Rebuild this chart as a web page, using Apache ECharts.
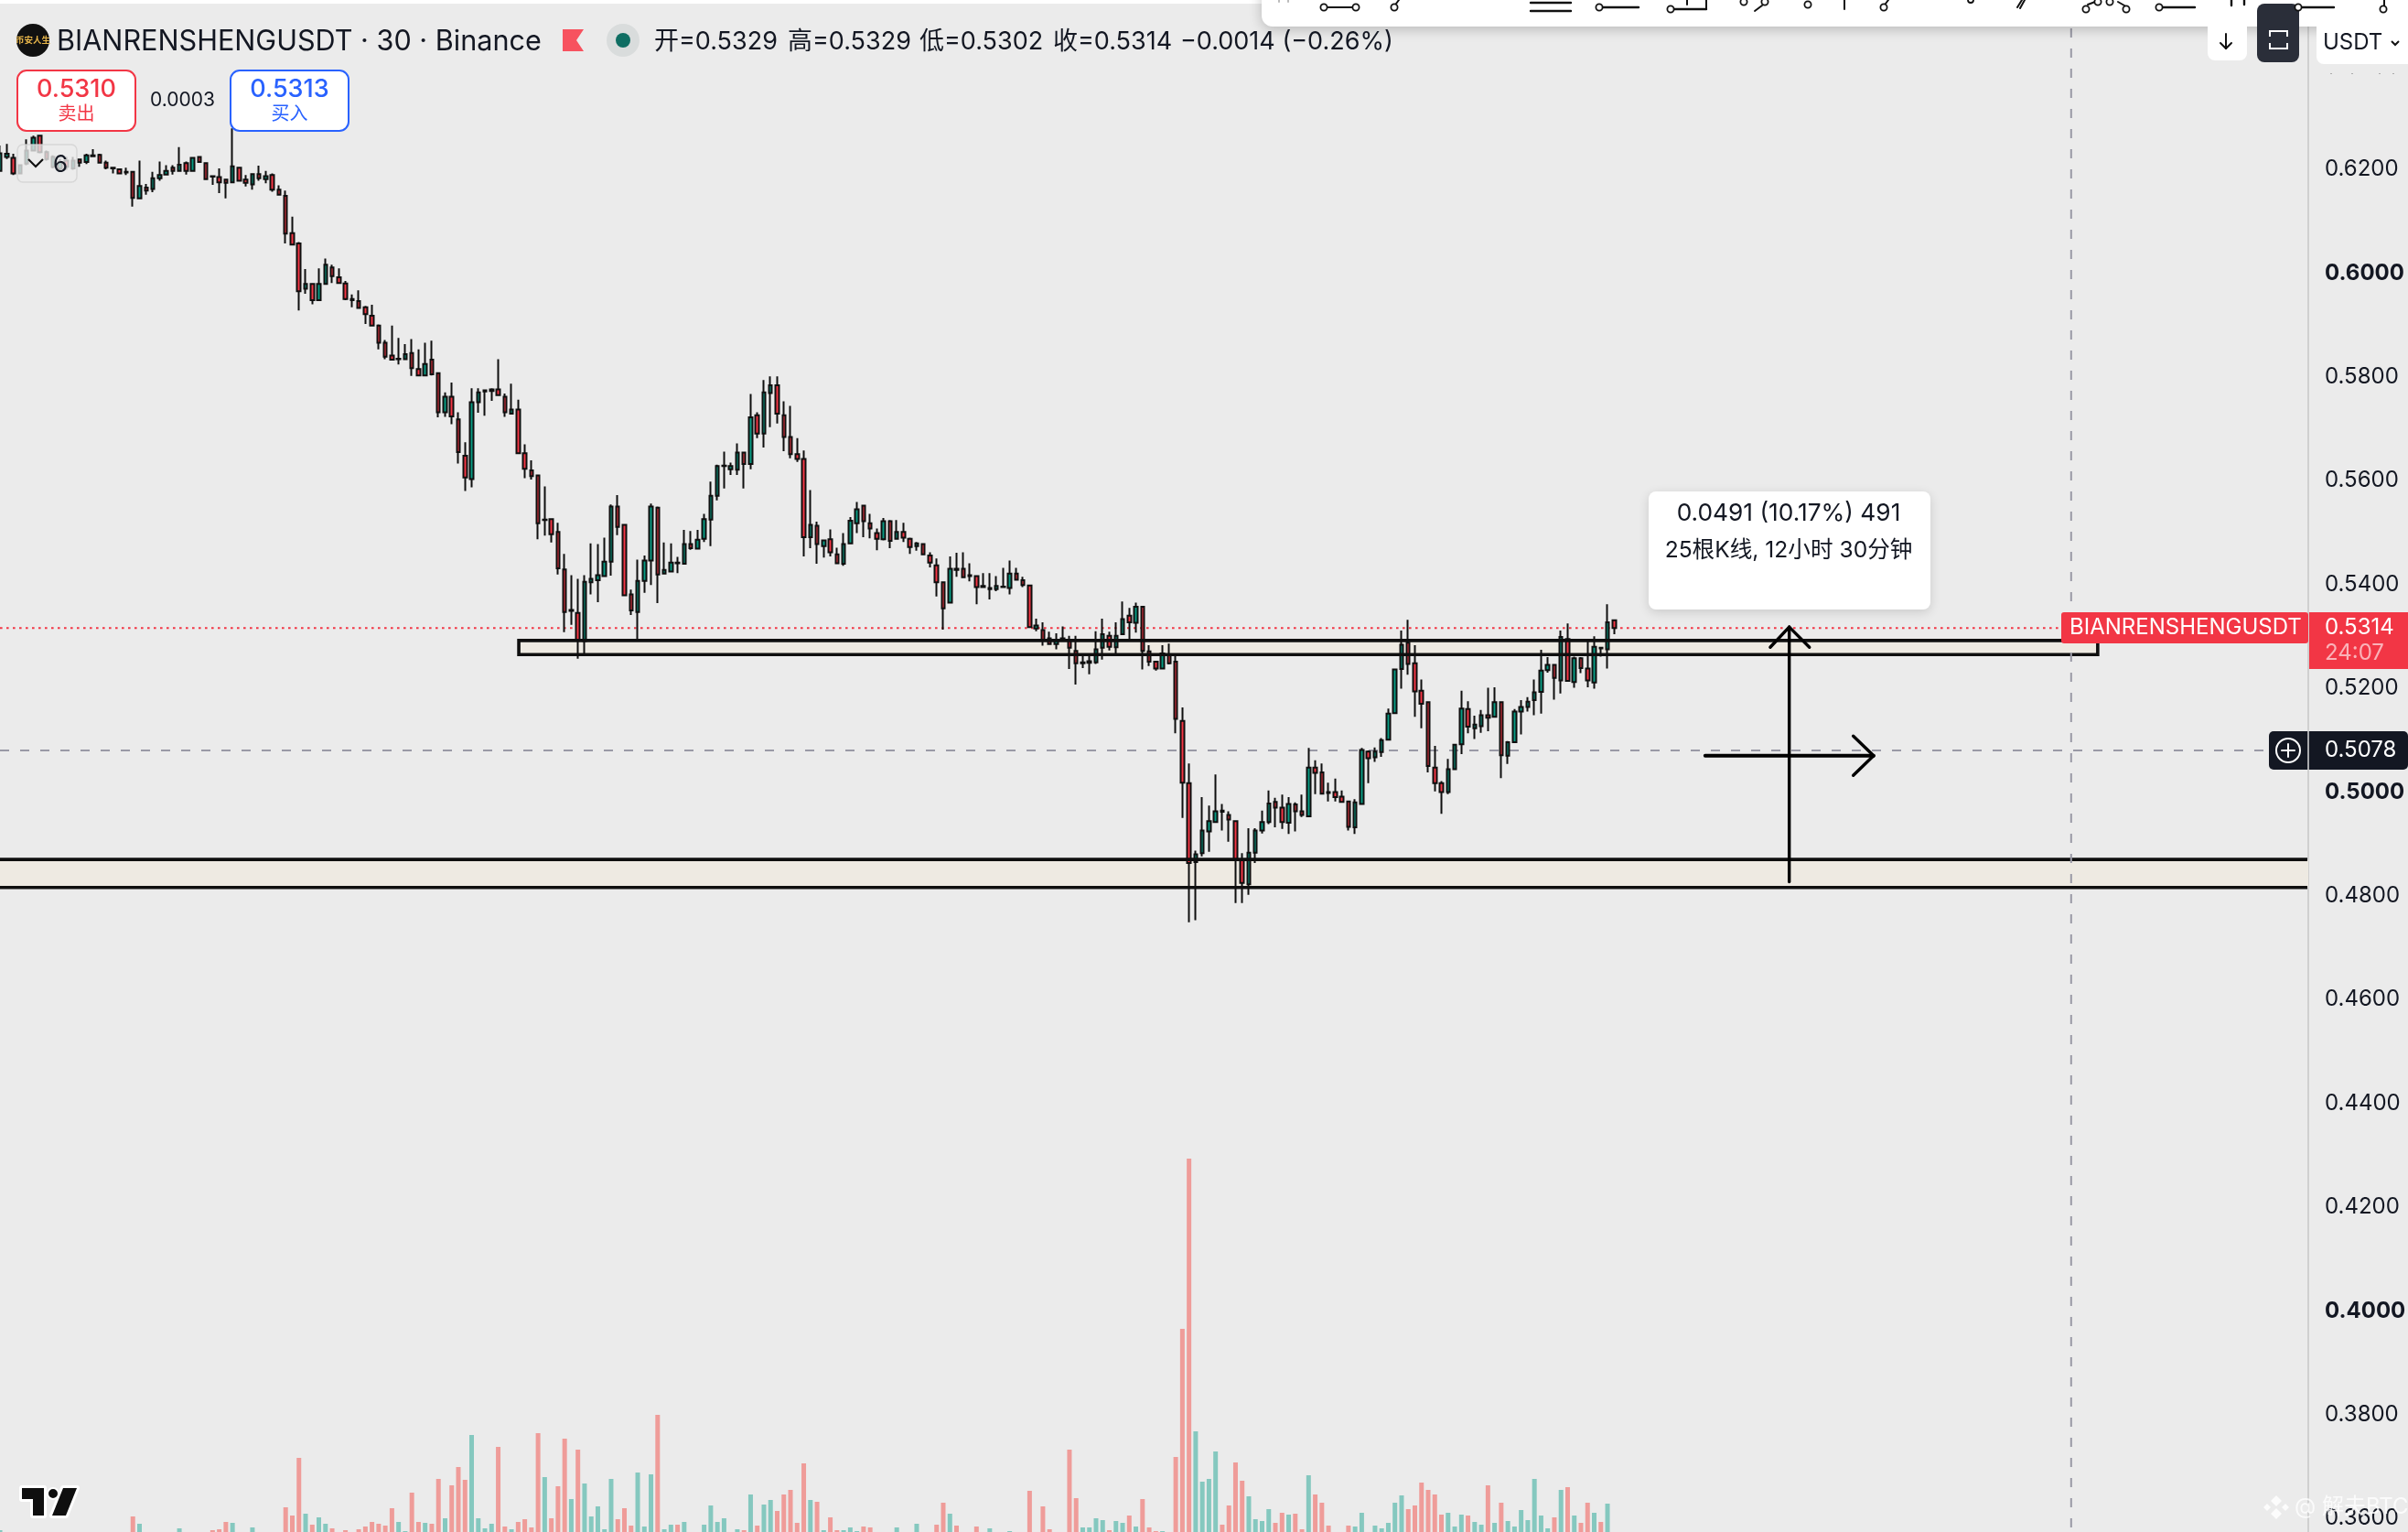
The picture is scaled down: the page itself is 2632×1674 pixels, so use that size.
<!DOCTYPE html>
<html><head><meta charset="utf-8">
<style>html,body{margin:0;padding:0;background:#ebebeb}#c{width:2632px;height:1674px}</style>
<script src="https://cdn.jsdelivr.net/npm/echarts@6/dist/echarts.min.js"></script>
</head><body><div id="c"></div>
<script>
// ---------- data ----------
const opens = [
.6195,.6222,.6220,.6190,.6209,.6234,.6263,.6231,.6203,.6200,
.6215,.6200,.6217,.6212,.6223,.6226,.6211,.6201,.6198,.6193,
.6193,.6142,.6163,.6160,.6181,.6188,.6201,.6195,.6210,.6195,
.6222,.6210,.6185,.6183,.6178,.6173,.6201,.6178,.6169,.6189,
.6179,.6187,.6159,.6147,.6075,.6055,.5968,.5977,.5946,.5977,
.6009,.5990,.5978,.5948,.5944,.5932,.5916,.5897,.5864,.5839,
.5832,.5832,.5844,.5813,.5801,.5831,.5805,.5730,.5760,.5716,
.5646,.5601,.5749,.5770,.5771,.5774,.5760,.5727,.5735,.5651,
.5618,.5608,.5522,.5524,.5499,.5427,.5347,.5343,.5289,.5402,
.5406,.5414,.5442,.5548,.5513,.5379,.5345,.5405,.5444,.5546,
.5419,.5423,.5440,.5438,.5476,.5467,.5486,.5523,.5569,.5626,
.5620,.5619,.5652,.5630,.5724,.5689,.5767,.5782,.5724,.5682,
.5649,.5640,.5489,.5511,.5472,.5485,.5456,.5438,.5477,.5516,
.5550,.5516,.5497,.5485,.5520,.5486,.5499,.5486,.5472,.5476,
.5454,.5435,.5402,.5363,.5428,.5428,.5416,.5414,.5393,.5389,
.5389,.5394,.5391,.5419,.5406,.5396,.5313,.5310,.5294,.5283,
.5292,.5291,.5270,.5246,.5247,.5248,.5276,.5299,.5277,.5302,
.5338,.5324,.5355,.5269,.5249,.5236,.5262,.5249,.5135,.5015,
.4863,.4880,.4922,.4940,.4962,.4954,.4942,.4867,.4820,.4881,
.4924,.4940,.4979,.4968,.4939,.4974,.4961,.4951,.5045,.5036,
.4998,.4998,.4989,.4980,.4930,.4975,.5076,.5065,.5075,.5099,
.5150,.5235,.5286,.5246,.5193,.5171,.5045,.5015,.4998,.5042,
.5090,.5158,.5121,.5125,.5146,.5143,.5171,.5068,.5094,.5153,
.5162,.5175,.5191,.5233,.5243,.5213,.5293,.5210,.5256,.5236,
.5209,.5276,.5273,.5329];
const closes = [
.6229,.6228,.6190,.6206,.6234,.6259,.6231,.6218,.6222,.6212,
.6203,.6215,.6211,.6225,.6225,.6211,.6201,.6200,.6190,.6192,
.6143,.6166,.6157,.6181,.6187,.6195,.6195,.6207,.6195,.6220,
.6212,.6179,.6184,.6173,.6172,.6204,.6176,.6172,.6189,.6181,
.6185,.6159,.6149,.6074,.6053,.5963,.5977,.5946,.5977,.6014,
.5992,.5979,.5948,.5946,.5931,.5919,.5897,.5864,.5837,.5831,
.5833,.5842,.5815,.5801,.5823,.5803,.5730,.5760,.5722,.5653,
.5604,.5749,.5768,.5772,.5774,.5763,.5730,.5735,.5651,.5621,
.5607,.5516,.5523,.5495,.5429,.5345,.5349,.5291,.5403,.5409,
.5416,.5442,.5548,.5509,.5377,.5348,.5405,.5444,.5548,.5417,
.5426,.5440,.5439,.5476,.5468,.5484,.5524,.5569,.5626,.5627,
.5626,.5652,.5630,.5720,.5689,.5768,.5782,.5727,.5682,.5649,
.5640,.5489,.5513,.5476,.5483,.5460,.5439,.5476,.5521,.5543,
.5520,.5506,.5486,.5520,.5482,.5499,.5488,.5470,.5477,.5456,
.5440,.5402,.5352,.5428,.5426,.5412,.5414,.5393,.5395,.5391,
.5395,.5393,.5419,.5407,.5397,.5316,.5319,.5290,.5283,.5290,
.5294,.5276,.5246,.5248,.5250,.5273,.5302,.5278,.5299,.5331,
.5325,.5355,.5270,.5249,.5236,.5265,.5246,.5139,.5016,.4861,
.4878,.4924,.4942,.4961,.4960,.4945,.4867,.4823,.4881,.4924,
.4940,.4976,.4968,.4940,.4975,.4961,.4954,.5045,.5035,.4995,
.4996,.4988,.4979,.4931,.4978,.5079,.5063,.5076,.5098,.5149,
.5234,.5282,.5245,.5192,.5168,.5048,.5015,.4998,.5042,.5089,
.5159,.5124,.5128,.5146,.5141,.5171,.5069,.5094,.5153,.5162,
.5172,.5190,.5232,.5243,.5218,.5297,.5212,.5256,.5237,.5213,
.5278,.5275,.5325,.5314];
const lows = [
.6193,.6218,.6187,.6189,.6206,.6233,.6229,.6215,.6200,.6195,
.6197,.6197,.6203,.6208,.6222,.6210,.6198,.6190,.6189,.6187,
.6126,.6141,.6149,.6154,.6176,.6187,.6188,.6193,.6188,.6193,
.6211,.6179,.6168,.6152,.6142,.6172,.6176,.6165,.6159,.6176,
.6171,.6155,.6149,.6055,.6053,.5926,.5958,.5938,.5944,.5976,
.5979,.5978,.5946,.5932,.5930,.5900,.5897,.5851,.5832,.5830,
.5822,.5831,.5800,.5800,.5800,.5801,.5720,.5721,.5707,.5631,
.5578,.5585,.5729,.5723,.5752,.5762,.5721,.5726,.5650,.5603,
.5600,.5485,.5492,.5479,.5417,.5306,.5320,.5255,.5261,.5379,
.5364,.5413,.5415,.5493,.5376,.5339,.5292,.5382,.5397,.5362,
.5418,.5422,.5420,.5436,.5465,.5466,.5480,.5472,.5560,.5583,
.5609,.5609,.5583,.5620,.5680,.5662,.5701,.5708,.5655,.5641,
.5634,.5452,.5468,.5438,.5450,.5452,.5438,.5434,.5477,.5497,
.5489,.5487,.5464,.5483,.5468,.5486,.5480,.5457,.5463,.5456,
.5431,.5375,.5311,.5362,.5413,.5412,.5404,.5360,.5392,.5369,
.5385,.5392,.5379,.5406,.5393,.5315,.5308,.5280,.5283,.5273,
.5291,.5235,.5205,.5237,.5225,.5245,.5253,.5271,.5262,.5301,
.5293,.5305,.5234,.5241,.5232,.5235,.5244,.5111,.4948,.4747,
.4751,.4874,.4883,.4939,.4924,.4902,.4784,.4784,.4800,.4861,
.4918,.4936,.4930,.4927,.4917,.4922,.4950,.4950,.4994,.4994,
.4980,.4980,.4978,.4924,.4917,.4974,.5015,.5056,.5066,.5098,
.5149,.5197,.5224,.5143,.5121,.5036,.4999,.4956,.4994,.5041,
.5071,.5111,.5100,.5112,.5115,.5142,.5025,.5052,.5094,.5109,
.5153,.5146,.5149,.5228,.5176,.5188,.5212,.5199,.5227,.5200,
.5197,.5259,.5236,.5302];
const highs = [
.6244,.6247,.6228,.6206,.6256,.6263,.6264,.6234,.6225,.6218,
.6222,.6222,.6218,.6228,.6237,.6228,.6215,.6201,.6200,.6201,
.6195,.6215,.6170,.6193,.6213,.6206,.6206,.6241,.6213,.6222,
.6223,.6211,.6185,.6200,.6179,.6277,.6203,.6187,.6190,.6205,
.6195,.6190,.6167,.6157,.6107,.6058,.6006,.5978,.6007,.6026,
.6014,.6007,.5983,.5957,.5965,.5935,.5937,.5899,.5869,.5897,
.5873,.5861,.5871,.5851,.5864,.5868,.5806,.5768,.5787,.5730,
.5672,.5776,.5776,.5774,.5776,.5832,.5766,.5785,.5754,.5668,
.5637,.5608,.5587,.5524,.5517,.5457,.5416,.5409,.5416,.5477,
.5476,.5488,.5552,.5570,.5513,.5388,.5446,.5454,.5554,.5548,
.5479,.5477,.5451,.5503,.5501,.5503,.5534,.5596,.5629,.5654,
.5633,.5670,.5652,.5765,.5730,.5792,.5799,.5799,.5751,.5742,
.5680,.5656,.5580,.5519,.5483,.5504,.5469,.5497,.5528,.5557,
.5550,.5534,.5506,.5526,.5522,.5522,.5517,.5488,.5480,.5476,
.5460,.5448,.5402,.5452,.5459,.5460,.5439,.5414,.5420,.5420,
.5414,.5430,.5444,.5430,.5413,.5398,.5332,.5325,.5307,.5304,
.5317,.5299,.5299,.5260,.5264,.5308,.5332,.5307,.5325,.5365,
.5353,.5363,.5355,.5281,.5249,.5281,.5284,.5265,.5161,.5053,
.4885,.4988,.4972,.5032,.4975,.4961,.4942,.4880,.4928,.4928,
.4962,.5001,.4987,.4993,.4988,.4978,.4993,.5083,.5059,.5053,
.5016,.5024,.5001,.4981,.4984,.5083,.5078,.5084,.5102,.5159,
.5235,.5309,.5330,.5281,.5215,.5172,.5087,.5019,.5062,.5091,
.5193,.5173,.5145,.5156,.5199,.5200,.5171,.5096,.5158,.5175,
.5181,.5215,.5272,.5258,.5244,.5309,.5323,.5259,.5258,.5290,
.5298,.5277,.5360,.5329];
const volumes = [
6,0,0,0,0,0,0,0,0,0,
0,0,0,0,0,0,0,0,0,0,
51,27,0,0,0,0,0,12,0,0,
0,0,6,9,33,30,0,0,15,0,
0,0,0,81,54,243,60,24,48,27,
12,0,6,0,9,18,33,27,21,78,
33,3,129,33,30,27,174,45,153,213,
171,318,45,12,27,279,18,9,33,42,
15,324,180,45,150,306,108,270,159,51,
84,9,174,42,78,21,195,18,189,384,
9,24,24,33,0,0,24,87,33,45,
0,9,6,123,21,90,105,69,123,138,
30,225,105,99,6,48,6,6,15,3,
18,15,0,0,0,15,0,0,27,0,
0,24,96,60,21,0,0,18,0,12,
0,0,3,0,0,135,0,84,9,0,
0,270,111,15,15,45,39,6,36,30,
54,18,108,15,3,3,0,246,666,1224,
330,165,174,264,24,87,228,168,117,42,
36,75,30,63,57,60,9,186,123,96,
21,0,0,21,18,63,0,21,12,30,
96,120,75,87,162,138,123,57,63,18,
57,54,33,24,153,30,96,36,18,72,
39,174,54,12,48,138,147,54,30,96,
63,33,93,0];
const tickLabels = ['0.6200','0.6000','0.5800','0.5600','0.5400','0.5200','0.5000','0.4800','0.4600','0.4400','0.4200','0.4000','0.3800','0.3600'];
const boldTicks = ['0.6000','0.5000','0.4000'];
const zoneTops = [0.5290, 0.4868];
const zoneBottoms = [0.5263, 0.4814];
const lastPrice = 0.5314, crossPrice = 0.5078;
const arrowV = {from:0.4825, to:0.5316, head:0.5277};
const arrowH = {price:0.5068, hi:0.5106, lo:0.5030};

// ---------- layout ----------
const SLOTS = 348;
const categories = Array.from({length:SLOTS},(_,i)=>String(i));
const candleData = opens.map((o,i)=>[o,closes[i],lows[i],highs[i]]);
const UP='#089981',DOWN='#f23645',INK='#0f0f0f',TXT='#131722',
      FONT='Inter,"Noto Sans CJK SC",sans-serif';

function helper(params,api){
  const s=params.coordSys;
  return {
    s, X:i=>s.x+(i+0.5)*s.width/SLOTS,
    Y:p=>api.coord([0,p])[1]
  };
}
const ln=(x1,y1,x2,y2,stroke,w,dash)=>({type:'line',shape:{x1,y1,x2,y2},
  style:{stroke,lineWidth:w,lineDash:dash||null,lineCap:dash?'butt':'round',fill:null}});

function renderUnder(params,api){
  const {s,X,Y}=helper(params,api),ch=[];
  ch.push({type:'rect',shape:{x:X(78.1),y:Y(zoneTops[0]),width:X(315.8)-X(78.1),height:Y(zoneBottoms[0])-Y(zoneTops[0])},style:{fill:'#eeeae2'}});
  ch.push({type:'rect',shape:{x:s.x,y:Y(zoneTops[1]),width:s.width,height:Y(zoneBottoms[1])-Y(zoneTops[1])},style:{fill:'#eeeae2'}});
  ch.push(ln(0,Y(lastPrice),2253,Y(lastPrice),DOWN,2,[2.6,4.4]));
  ch.push(ln(0,Y(crossPrice),2480,Y(crossPrice),'#9a9aa6',2,[10,12]));
  return {type:'group',children:ch};
}
function renderOver(params,api){
  const {s,X,Y}=helper(params,api),ch=[];
  ch.push({type:'rect',shape:{x:X(78.1),y:Y(zoneTops[0]),width:X(315.8)-X(78.1),height:Y(zoneBottoms[0])-Y(zoneTops[0])},style:{fill:null,stroke:INK,lineWidth:3.6}});
  ch.push(ln(s.x,Y(zoneTops[1]),s.x+s.width-1,Y(zoneTops[1]),INK,3.6,[1e4,0]));
  ch.push(ln(s.x,Y(zoneBottoms[1]),s.x+s.width-1,Y(zoneBottoms[1]),INK,3.6,[1e4,0]));
  ch.push(ln(X(311.8),31,X(311.8),1674,'#9a9aa6',2,[10,12]));
  const i=269.36,k='#000';
  ch.push(ln(X(i),Y(arrowV.from),X(i),Y(arrowV.to),k,3.4));
  ch.push(ln(X(266.5),Y(arrowV.head),X(i),Y(arrowV.to),k,3.4));
  ch.push(ln(X(272.4),Y(arrowV.head),X(i),Y(arrowV.to),k,3.4));
  ch.push(ln(X(256.7),Y(arrowH.price),X(282.06),Y(arrowH.price),k,3.8));
  ch.push(ln(X(279),Y(arrowH.hi),X(282.06),Y(arrowH.price),k,3.4));
  ch.push(ln(X(279),Y(arrowH.lo),X(282.06),Y(arrowH.price),k,3.4));
  return {type:'group',children:ch};
}

// ---------- chrome ----------
const Z={z:100};
const box=(x,y,w,h,fill,o={})=>({type:'rect',...Z,silent:true,shape:{x,y,width:w,height:h,r:o.r||0},
  style:{fill,stroke:o.stroke||null,lineWidth:o.lw||0,shadowBlur:o.blur||0,shadowColor:o.sc||'transparent',shadowOffsetY:o.oy||0}});
const txt=(x,y,text,size,fill,o={})=>({type:'text',...Z,z:o.z||101,silent:true,x,y,
  style:{text,fill,font:`${o.w||400} ${size}px ${o.f||FONT}`,align:o.a||'left',verticalAlign:'middle',opacity:o.op==null?1:o.op,
         shadowBlur:o.sb||0,shadowColor:o.sc||'transparent'}});
const seg=(x1,y1,x2,y2,stroke,w=2)=>({type:'line',...Z,z:103,silent:true,shape:{x1,y1,x2,y2},style:{stroke,lineWidth:w,lineCap:'round'}});
const dot=(cx,cy,r=3.6)=>({type:'circle',...Z,z:104,silent:true,shape:{cx,cy,r},style:{fill:'#fff',stroke:'#111',lineWidth:1.8}});
const poly=(pts,fill,o={})=>({type:'polygon',...Z,z:o.z||102,silent:true,shape:{points:pts},style:{fill,stroke:o.stroke||null,lineWidth:o.lw||0,lineJoin:'round'}});

const chrome=[
  // top strip + toolbar
  box(0,0,1400,4,'#fff'),
  box(1379,-30,1300,59,'#fff',{r:12,blur:14,sc:'rgba(0,0,0,.22)',oy:3}),
  seg(1398,0,1398,2,'#bbb',2),seg(1408,0,1408,2,'#bbb',2),
  seg(1447,8,1482,8,'#111'),dot(1447,8),dot(1482,8),dot(1524,8),seg(1526,4,1529,0,'#111'),
  seg(1673,3,1717,3,'#111',2.4),seg(1673,12,1717,12,'#111',2.4),
  dot(1748,8),seg(1752,8,1791,8,'#111',2.4),
  dot(1826,10),seg(1830,10,1865,10,'#111',2.4),seg(1865,0,1865,10,'#111'),seg(1844,0,1844,5,'#111'),
  dot(1906,2),dot(1929,2),seg(1926,6,1918,12,'#111'),
  dot(1976,5),seg(2016,0,2016,10,'#111'),dot(2059,8),seg(2061,4,2064,0,'#111'),
  dot(2154,0,3),
  seg(2205,8,2210,0,'#111',2),seg(2208,9,2213,0,'#111',2),
  dot(2280,10),dot(2324,10),seg(2282,5,2290,2,'#111'),dot(2293,2),dot(2306,2),seg(2315,2,2322,6,'#111'),
  dot(2360,8),seg(2364,8,2399,8,'#111',2.4),
  seg(2439,0,2439,6,'#111',2.4),seg(2453,0,2453,5,'#111',2.4),
  dot(2512,8),seg(2516,8,2551,8,'#111',2.4),dot(2605,10),seg(2606,0,2606,6,'#111'),
  // right-hand buttons
  box(2413,4,43,62,'#fff',{r:8}),
  seg(2433,37,2433,53,'#111',2),seg(2427,47,2433,53,'#111',2),seg(2439,47,2433,53,'#111',2),
  box(2467,4,46,64,'#2a2e39',{r:8}),
  {type:'polyline',...Z,z:103,silent:true,shape:{points:[[2481,40],[2481,34],[2500,34],[2500,40]]},style:{stroke:'#fff',lineWidth:2,fill:null}},
  {type:'polyline',...Z,z:103,silent:true,shape:{points:[[2481,47],[2481,53],[2500,53],[2500,47]]},style:{stroke:'#fff',lineWidth:2,fill:null}},
  box(2532,4,110,66,'#fff',{r:8}),
  txt(2539,47,'USDT',24,TXT),
  {type:'polyline',...Z,z:103,silent:true,shape:{points:[[2614,45],[2618,49],[2622,45]]},style:{stroke:'#111',lineWidth:2,fill:null}},
  box(2547,80,2,1,'#aaa'),box(2570,80,2,1,'#aaa'),box(2600,80,2,1,'#aaa'),box(2615,80,2,1,'#aaa'),
  // title row
  {type:'circle',...Z,silent:true,shape:{cx:36,cy:44,r:18},style:{fill:'#111'}},
  txt(36,44,'币安人生',9.5,'#e8b64a',{a:'center',w:700}),
  txt(62,46,'BIANRENSHENGUSDT · 30 · Binance',30.6,TXT),
  poly([[615,32],[638,32],[630,44],[638,56],[615,56]],'#f7525f'),
  {type:'circle',...Z,silent:true,shape:{cx:681,cy:44,r:18},style:{fill:'#d9dcdc'}},
  {type:'circle',...Z,z:102,silent:true,shape:{cx:681,cy:44,r:8},style:{fill:'#0f6e63'}},
  txt(715,46,'开=0.5329',27,TXT),txt(861,46,'高=0.5329',27,TXT),
  txt(1005,46,'低=0.5302',27,TXT),txt(1151,46,'收=0.5314',27,TXT),
  txt(1290,46,'−0.0014 (−0.26%)',27,TXT),
  // buy/sell
  box(19,77,129,66,'#fff',{r:10,stroke:DOWN,lw:2}),
  txt(83.5,97.5,'0.5310',27,DOWN,{a:'center',w:500}),
  txt(83.5,125,'卖出',20,DOWN,{a:'center'}),
  txt(199.5,110,'0.0003',21,TXT,{a:'center'}),
  box(252,77,129,66,'#fff',{r:10,stroke:'#2962ff',lw:2}),
  txt(316.5,97.5,'0.5313',27,'#2962ff',{a:'center',w:500}),
  txt(316.5,125,'买入',20,'#2962ff',{a:'center'}),
  // collapse chip
  box(19,158,65,41,'rgba(236,236,236,.78)',{r:6,stroke:'rgba(210,210,210,.8)',lw:1.5}),
  {type:'polyline',...Z,z:103,silent:true,shape:{points:[[31,174],[39,182],[47,174]]},style:{stroke:'#111',lineWidth:2.2,fill:null}},
  txt(66,180,'6',26,TXT,{a:'center'}),
  // measure tooltip
  box(1802,537,308,129,'#fff',{r:8,blur:12,sc:'rgba(0,0,0,.14)',oy:3}),
  txt(1955,561.5,'0.0491 (10.17%) 491',26.3,TXT,{a:'center'}),
  txt(1955,601.5,'25根K线, 12小时 30分钟',24.6,TXT,{a:'center'}),
  // price tags
  box(2253,669,270,34,DOWN,{r:3}),
  txt(2262,686,'BIANRENSHENGUSDT',24,'#fff'),
  box(2524,669,108,62,DOWN),
  txt(2541,686,'0.5314',24,'#fff'),
  txt(2541,714,'24:07',24,'#fff',{op:.62}),
  box(2480,799,152,42,'#131722',{r:5}),
  seg(2523,799,2523,841,'#ddd',1.5),
  {type:'circle',...Z,z:103,silent:true,shape:{cx:2501,cy:820,r:13},style:{fill:null,stroke:'#fff',lineWidth:2}},
  seg(2494,820,2508,820,'#fff',2),seg(2501,813,2501,827,'#fff',2),
  txt(2541,820,'0.5078',24,'#fff'),
  // TradingView mark
  poly([[24,1626],[48,1626],[48,1656],[36,1656],[36,1638],[24,1638]],INK,{stroke:'#fff',lw:6,z:101}),
  poly([[69,1626],[84,1626],[72,1656],[57,1656]],INK,{stroke:'#fff',lw:6,z:101}),
  poly([[24,1626],[48,1626],[48,1656],[36,1656],[36,1638],[24,1638]],INK,{z:102}),
  poly([[69,1626],[84,1626],[72,1656],[57,1656]],INK,{z:102}),
  {type:'circle',...Z,z:103,silent:true,shape:{cx:58,cy:1632,r:6},style:{fill:INK,stroke:'#fff',lineWidth:2}},
  // watermark
  poly([[2488,1634],[2494,1640],[2488,1646],[2482,1640]],'rgba(255,255,255,.85)',{z:105}),
  poly([[2478,1643],[2482,1647],[2478,1651],[2474,1647]],'rgba(255,255,255,.85)',{z:105}),
  poly([[2498,1643],[2502,1647],[2498,1651],[2494,1647]],'rgba(255,255,255,.85)',{z:105}),
  poly([[2488,1648],[2494,1654],[2488,1660],[2482,1654]],'rgba(255,255,255,.85)',{z:105}),
  txt(2508,1647,'@ 解夫BTC',24,'rgba(255,255,255,.8)',{z:105,sb:3,sc:'rgba(0,0,0,.4)'})
];

const chart=echarts.init(document.getElementById('c'),null,{renderer:'canvas',width:2632,height:1674});
const GL=-3.6,GW=2526.6;
chart.setOption({
  animation:false,backgroundColor:'#ebebeb',
  grid:[
    {left:GL,width:GW,top:-42.9,height:1814.4,outerBoundsMode:'none',containLabel:false},
    {left:GL,width:GW,top:1062,height:612,outerBoundsMode:'none',containLabel:false}
  ],
  xAxis:[
    {type:'category',gridIndex:0,data:categories,boundaryGap:true,show:false},
    {type:'category',gridIndex:1,data:categories,boundaryGap:true,show:false}
  ],
  yAxis:[
    {type:'value',gridIndex:0,position:'right',min:0.34,max:0.66,interval:0.02,scale:true,
     splitLine:{show:false},axisTick:{show:false},
     axisLine:{show:true,onZero:false,lineStyle:{color:'#d0d0d0',width:2}},
     axisLabel:{show:true,inside:false,margin:18,align:'left',color:TXT,fontFamily:FONT,fontSize:24,padding:[2,0,0,0],
       showMinLabel:true,showMaxLabel:true,hideOverlap:false,
       formatter:v=>{const t=v.toFixed(4);
         if(!tickLabels.includes(t))return '';
         return boldTicks.includes(t)?`{b|${t}}`:t;},
       rich:{b:{fontWeight:700,fontSize:24,color:TXT,fontFamily:FONT}}}},
    {type:'value',gridIndex:1,min:0,max:1836,show:false}
  ],
  graphic:{elements:chrome},
  series:[
    {type:'bar',name:'volume',xAxisIndex:1,yAxisIndex:1,data:volumes,barWidth:5,z:1,silent:true,
     itemStyle:{color:p=>closes[p.dataIndex]>=opens[p.dataIndex]?'#85c8bf':'#ef9c99'}},
    {type:'custom',xAxisIndex:0,yAxisIndex:0,data:[0],renderItem:renderUnder,z:2,silent:true,clip:false},
    {type:'candlestick',name:'price',xAxisIndex:0,yAxisIndex:0,data:candleData,barWidth:4,z:5,silent:true,
     itemStyle:{color:UP,color0:DOWN,borderColor:INK,borderColor0:INK,borderWidth:2}},
    {type:'custom',xAxisIndex:0,yAxisIndex:0,data:[0],renderItem:renderOver,z:8,silent:true,clip:false}
  ]
});
</script></body></html>
